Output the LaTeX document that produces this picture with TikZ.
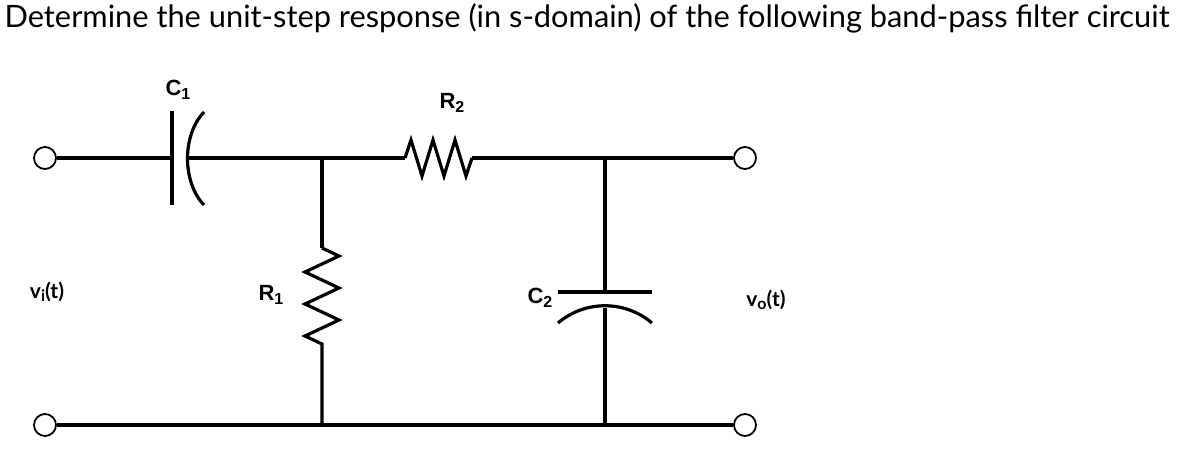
\documentclass[tikz,border=0pt]{standalone}
\usepackage{fontspec}
\setmainfont{Lato}
\newfontfamily\arialf{Liberation Sans}
\newcommand{\mysub}[1]{\raisebox{-0.3ex}{\fontsize{16}{18}\selectfont #1}}
\begin{document}
\begin{tikzpicture}[x=1pt,y=-1pt,line width=3.2pt,
  term/.style={circle,draw,line width=1.8pt,minimum size=22pt,inner sep=0pt},
  lbl/.style={font=\arialf\bfseries\fontsize{22}{24}\selectfont},
  lbl2/.style={font=\bfseries\fontsize{21}{24}\selectfont}]
\useasboundingbox (0,0) rectangle (1187,476);
\node[anchor=west,font=\fontsize{30.8}{34}\selectfont,inner sep=0pt] (title) at (3,18) {Determine the unit-step response (in s-domain) of the following band-pass filter circuit};
\node[term] (t1) at (45,158) {};
\node[term] (t2) at (45,425) {};
\node[term] (t3) at (745,158) {};
\node[term] (t4) at (745,425) {};
\coordinate (c1a) at (172,158);
\coordinate (c1b) at (186,158);
\coordinate (j1) at (322,158);
\coordinate (r2a) at (405,158);
\coordinate (r2b) at (472,158);
\coordinate (j2) at (605,158);
\coordinate (r1a) at (322,248);
\coordinate (r1b) at (322,350);
\coordinate (jb1) at (322,425);
\coordinate (c2a) at (605,292);
\coordinate (c2b) at (605,308);
\coordinate (jb2) at (605,425);
\draw (t1) -- (c1a);
\draw (c1a) ++(0,-47) -- ++(0,94);
\draw (204,112) .. controls (182,135) and (182,182) .. (204,205);
\draw (c1b) -- (j1) -- (r2a);
\draw (r2a) -- ++(6,-18) -- ++(11,36) -- ++(11,-36) -- ++(11,36) -- ++(11,-36) -- ++(11,36) -- ++(6,-18) -- (r2b);
\draw (r2b) -- (j2) -- (t3);
\draw (j1) -- (r1a);
\draw (r1a) -- ++(17,8) -- ++(-34,16) -- ++(34,16) -- ++(-34,16) -- ++(34,16) -- ++(-34,16) -- ++(17,8) -- (r1b) -- (jb1);
\draw (j2) -- (c2a);
\draw (558,292) -- (652,292);
\draw (558,323) .. controls (585,300) and (625,300) .. (652,323);
\draw (c2b) -- (jb2);
\draw (t2) -- (jb1) -- (jb2) -- (t4);
\node[lbl] (lc1) at (178,90) {C\mysub{1}};
\node[lbl] (lr2) at (452,103) {R\mysub{2}};
\node[lbl] (lr1) at (271,295) {R\mysub{1}};
\node[lbl] (lc2) at (540,298) {C\mysub{2}};
\node[lbl2] (lvi) at (47,292) {v\mysub{i}(t)};
\node[lbl2] (lvo) at (766,300) {v\mysub{o}(t)};
\end{tikzpicture}
\end{document}
